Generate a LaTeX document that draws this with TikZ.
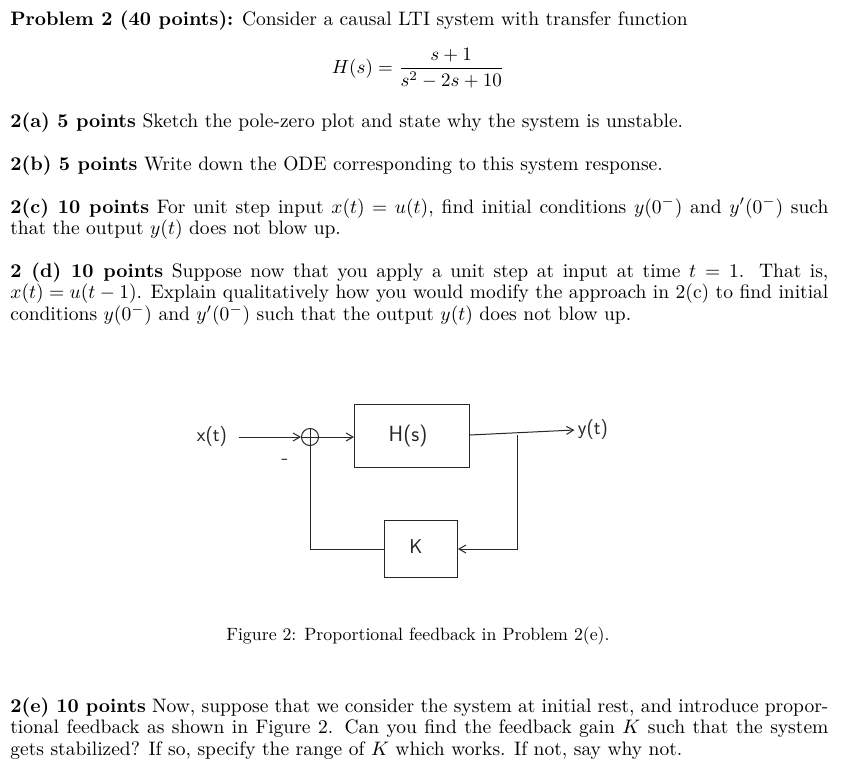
\documentclass[tikz,border=0pt]{standalone}
\usepackage{amsmath}
\usetikzlibrary{arrows.meta}
\begin{document}
\begin{tikzpicture}[x=1pt,y=-1pt,
  para/.style={anchor=base west,text width=419.5pt,align=justify,inner sep=0pt,font=\fontsize{10}{11.1}\selectfont,scale=1.95,transform shape},
  hand/.style={line width=1pt,draw=black!85},
  harr/.style={hand,-{Straight Barb[length=7pt,width=8pt]}}]
\useasboundingbox (0,0) rectangle (845,773);
\node[para] (p1) at (10,26) {\textbf{Problem 2 (40 points):} Consider a causal LTI system with transfer function};
\node[anchor=center,inner sep=0pt,font=\fontsize{10}{12}\selectfont,scale=1.9,transform shape] (eq) at (418,68) {$\displaystyle H(s)=\frac{s+1}{s^2-2s+10}$};
\node[para] (pa) at (10,128) {\textbf{2(a) 5 points} Sketch the pole-zero plot and state why the system is unstable.};
\node[para] (pb) at (10,170) {\textbf{2(b) 5 points} Write down the ODE corresponding to this system response.};
\node[para] (pc) at (10,213) {\textbf{2(c) 10 points} For unit step input $x(t)=u(t)$, find initial conditions $y(0^-)$ and $y'(0^-)$ such that the output $y(t)$ does not blow up.};
\node[para] (pd) at (10,277) {\textbf{2 (d) 10 points} Suppose now that you apply a unit step at input at time $t=1$. That is, $x(t)=u(t-1)$. Explain qualitatively how you would modify the approach in 2(c) to find initial conditions $y(0^-)$ and $y'(0^-)$ such that the output $y(t)$ does not blow up.};
\node[anchor=base,inner sep=0pt,font=\fontsize{10}{12}\selectfont,scale=1.78,transform shape] (cap) at (418,640) {Figure 2: Proportional feedback in Problem 2(e).};
\node[para] (pe) at (10,712) {\textbf{2(e) 10 points} Now, suppose that we consider the system at initial rest, and introduce proportional feedback as shown in Figure 2. Can you find the feedback gain $K$ such that the system gets stabilized? If so, specify the range of $K$ which works. If not, say why not.};
% diagram
\node[font=\sffamily\fontsize{20}{24}\selectfont,text=black!85] (x) at (212,437) {x(t)};
\node[hand,draw,circle,minimum size=17pt,inner sep=0pt] (sum) at (310,437) {};
\draw[hand] (sum.north)--(sum.south) (sum.west)--(sum.east);
\node[hand,draw,minimum width=115pt,minimum height=63pt] (H) at (412,436) {};
\node[font=\sffamily\fontsize{22}{26}\selectfont,text=black!85] (Ht) at (408,436) {H(s)};
\node[font=\sffamily\fontsize{20}{24}\selectfont,text=black!85] (y) at (593,430) {y(t)};
\node[hand,draw,minimum width=73pt,minimum height=57pt] (K) at (421,549) {};
\node[font=\sffamily\fontsize{20}{24}\selectfont,text=black!85] (Kt) at (416,547) {K};
\node[font=\fontsize{22}{24}\selectfont] (minus) at (285,462) {-};
\coordinate (o) at (517,435);
\draw[harr] (x.east)++(8,0) -- (sum.west);
\draw[harr] (sum.east) -- (H.west|-sum.east);
\draw[harr] (H.east|-o) -- (y.west);
\draw[harr] (o) |- (K.east);
\draw[hand] (K.west) -| (sum.south);
\end{tikzpicture}
\end{document}
